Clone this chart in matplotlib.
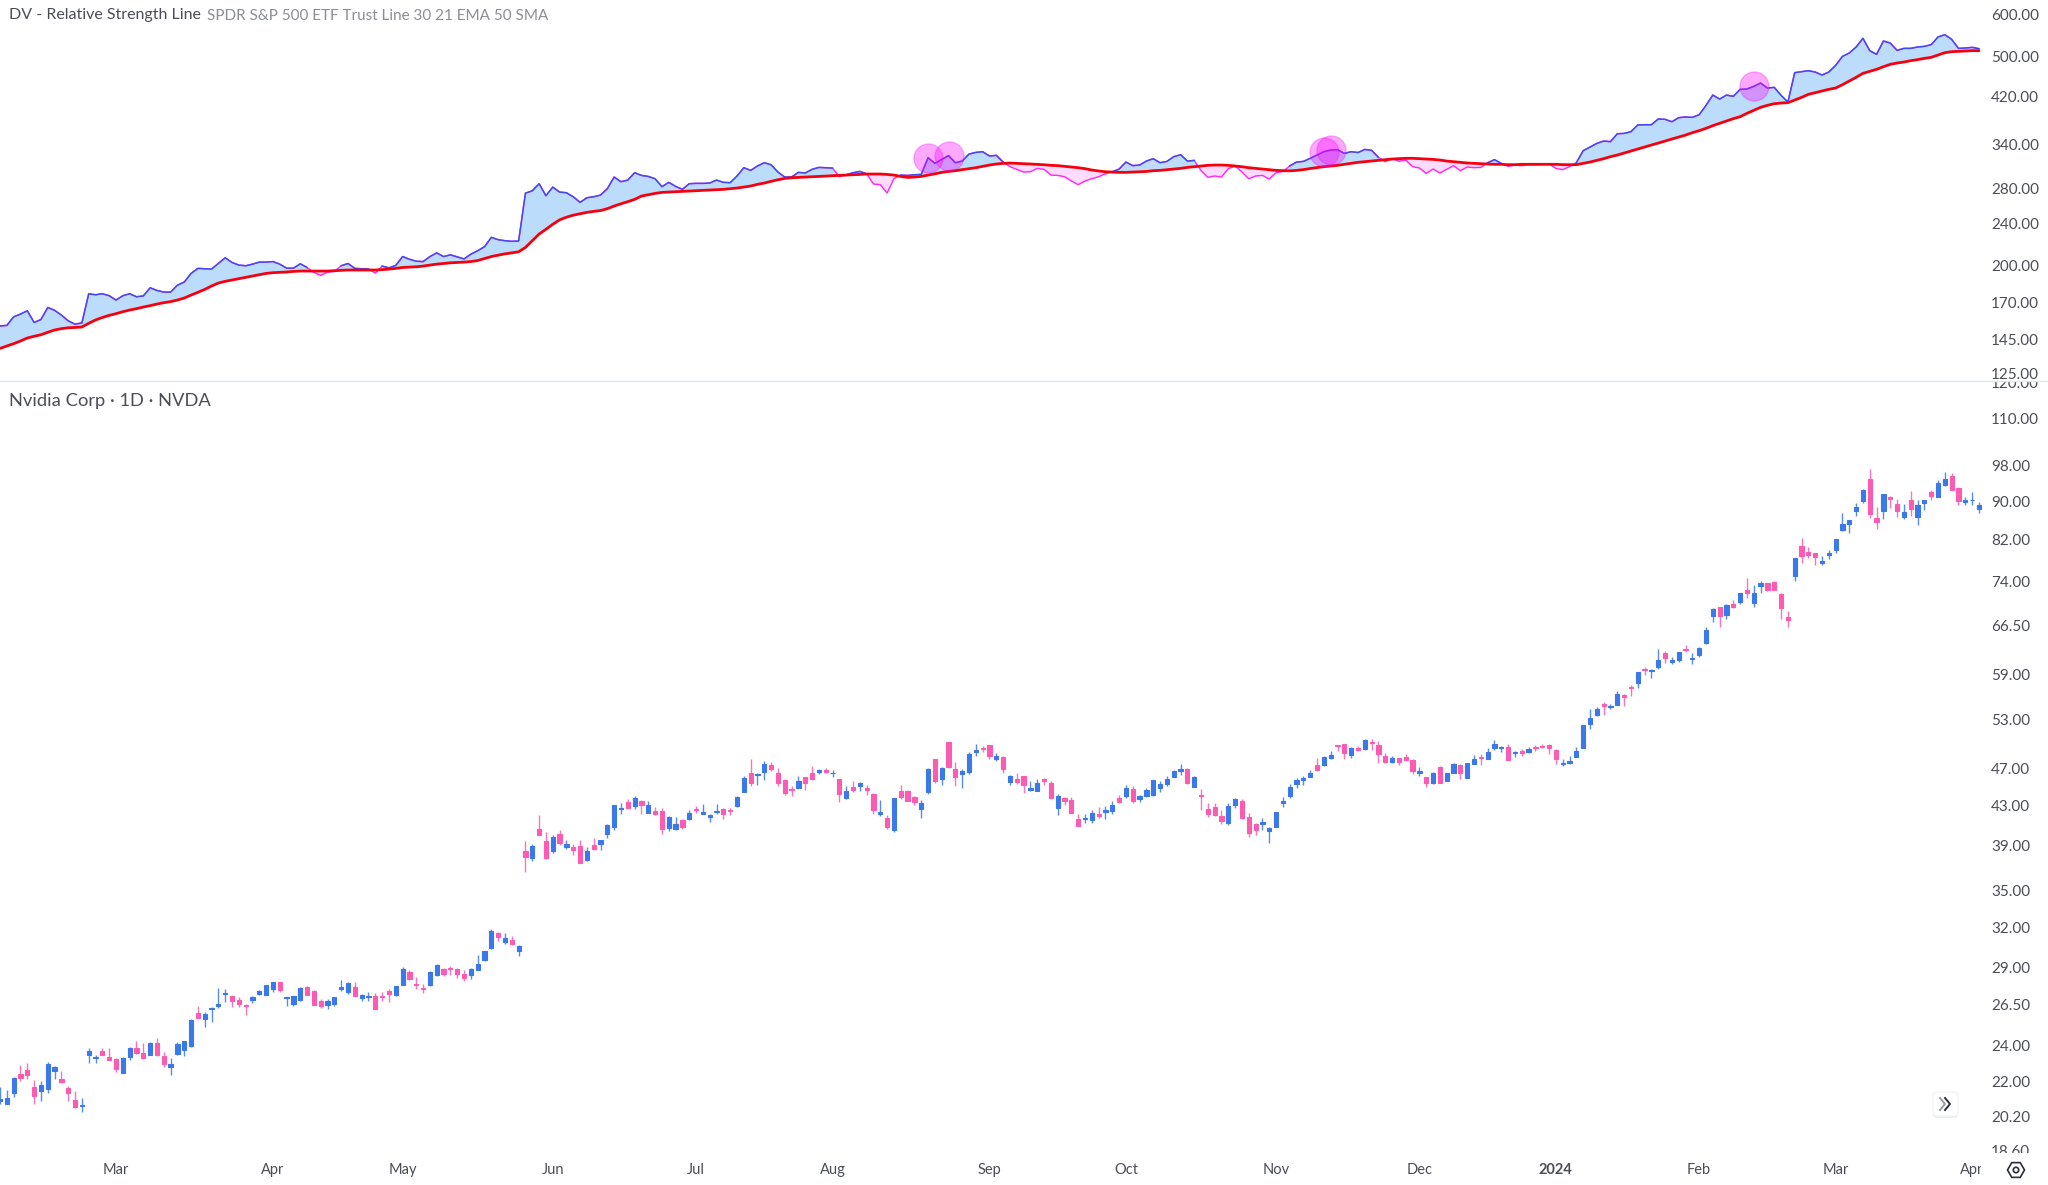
import numpy as np
import matplotlib
matplotlib.use("Agg")
import matplotlib.pyplot as plt
from matplotlib.patches import FancyBboxPatch, RegularPolygon, Circle
from matplotlib.transforms import offset_copy

# NVDA daily candles, Feb 2023 - Apr 2024
opens = [21.02,20.83,21.39,22.42,22.62,21.71,21.53,21.62,22.57,22.15,
    21.67,21.05,20.73,23.46,23.31,23.69,23.38,23.24,22.50,23.36,
    23.90,23.61,23.49,24.19,23.42,22.79,23.53,23.78,24.02,26.02,
    25.65,26.23,26.46,27.20,27.09,26.83,26.53,26.85,27.22,27.16,
    27.53,28.01,26.94,26.59,26.83,27.73,27.40,26.74,26.50,26.57,
    27.55,27.38,27.69,26.94,27.03,27.09,27.07,27.40,27.18,27.85,
    28.70,27.89,27.64,27.80,28.52,28.93,29.00,28.93,28.56,28.54,
    28.86,29.59,30.42,31.58,30.87,31.02,30.22,
    38.53,37.88,40.63,39.50,38.50,40.14,38.90,38.87,38.96,37.72,
    39.06,39.18,40.17,40.83,42.65,43.42,42.97,43.49,42.24,42.48,
    42.48,40.76,40.63,41.56,41.66,42.69,42.14,41.87,42.31,42.65,
    42.59,42.97,44.49,46.55,46.32,46.66,47.43,46.51,45.80,44.81,
    44.89,46.07,46.51,46.70,46.85,46.51,45.84,43.77,45.03,45.14,
    44.85,44.27,42.14,41.73,40.50,44.56,44.53,43.95,42.69,44.45,
    48.12,45.84,50.18,46.97,46.47,46.70,49.02,49.42,49.78,48.20,
    48.43,45.55,45.88,46.18,44.70,44.60,45.92,
    45.40,42.76,43.85,43.60,41.60,41.63,41.53,42.11,42.31,42.45,
    43.85,43.99,44.81,43.70,43.99,44.17,44.85,45.29,46.14,46.74,
    46.97,45.03,44.10,42.62,42.86,41.94,41.23,43.07,43.46,41.87,
    41.13,41.17,40.47,40.86,43.32,43.99,45.29,45.77,46.07,47.46,
    47.50,48.28,49.78,49.94,48.67,49.50,49.30,50.23,49.82,48.47,
    47.77,48.24,48.35,48.04,46.59,46.07,45.47,47.19,45.66,46.62,
    47.50,46.03,47.62,48.43,48.16,49.42,49.42,49.62,48.83,49.14,
    48.99,49.58,49.74,49.82,49.22,47.54,47.73,48.43,
    49.5,52.4,53.55,55.0,54.65,54.96,56.33,57.4,57.97,60.0,
    59.6,60.27,62.34,61.0,61.2,62.97,61.4,62.05,63.85,68.2,
    69.6,68.3,70.1,70.45,72.65,70.4,73.25,73.78,74.0,71.9,
    68.0,75.1,80.7,79.7,79.35,77.5,79.1,80.05,84.0,85.25,
    87.95,90.1,95.1,86.4,88.0,91.0,89.45,86.75,90.32,86.7,
    89.75,92.2,91.0,93.75,95.75,93.05,89.95,90.25,88.35]
highs = [21.74,21.56,22.28,22.92,23.05,22.10,22.06,23.07,22.88,22.59,
    21.78,21.53,21.13,23.90,23.51,23.90,23.86,23.29,23.38,23.94,
    24.27,24.15,24.23,24.47,23.63,23.33,24.21,24.31,25.60,26.42,
    26.04,26.40,27.64,27.53,27.18,27.00,26.55,27.09,27.49,27.85,
    28.03,28.03,27.03,27.11,27.67,27.78,27.49,26.92,26.92,27.05,
    28.15,28.03,28.03,27.22,27.38,27.27,27.33,27.53,27.78,29.04,
    28.84,28.38,27.89,28.77,29.26,29.00,29.14,28.98,28.86,29.00,
    29.90,30.25,31.85,31.62,31.55,31.32,30.65,
    39.50,39.15,42.08,40.34,40.08,40.50,39.59,39.15,39.53,38.90,
    39.75,39.53,41.10,43.07,43.32,43.70,43.99,43.60,43.46,42.83,
    42.76,41.94,41.87,41.63,42.55,42.93,43.21,42.17,43.21,42.79,
    42.79,43.99,46.18,48.12,46.51,47.89,47.85,47.08,45.84,45.10,
    46.18,46.10,47.39,47.04,47.12,46.89,45.88,45.10,45.70,45.55,
    45.25,44.31,43.63,42.04,43.81,45.25,44.70,44.06,43.60,47.08,
    48.16,47.23,50.23,47.77,46.97,49.02,49.94,49.74,49.78,48.87,
    48.55,46.36,46.62,46.22,45.70,45.92,45.99,
    45.66,44.27,43.95,43.88,42.14,42.14,42.55,42.86,42.93,43.46,
    44.17,45.18,45.10,44.13,44.85,45.80,45.62,46.25,46.89,47.62,
    47.12,46.25,44.74,43.25,43.32,42.52,43.25,43.77,43.67,42.24,
    41.23,41.73,40.89,42.38,43.92,45.29,45.95,46.25,46.85,48.28,
    48.51,49.06,49.82,49.98,49.54,49.66,50.51,50.55,50.27,48.91,
    48.47,48.31,48.79,48.12,47.19,46.07,46.70,47.39,46.62,47.70,
    47.54,47.66,48.59,48.71,49.42,50.47,49.74,49.98,49.14,49.34,
    49.54,49.78,49.98,49.98,49.30,48.16,48.51,49.54,
    52.3,54.35,54.65,55.37,55.0,56.8,56.42,57.6,59.55,60.3,
    59.88,62.87,62.65,61.75,62.5,63.47,62.25,63.17,66.4,69.45,
    69.7,70.15,70.8,72.15,74.7,73.5,74.2,73.85,74.25,72.0,
    68.95,78.45,82.35,80.65,79.45,78.9,79.95,82.2,87.6,86.05,
    89.75,92.75,97.4,88.85,91.75,91.3,90.55,89.45,92.3,90.45,
    90.4,92.65,94.75,96.7,96.35,93.15,91.1,92.2,90.0]
lows = [20.85,20.83,21.22,22.05,22.17,20.85,21.00,21.39,22.14,21.96,
    21.02,20.65,20.46,23.05,23.01,23.46,23.20,22.55,22.50,23.20,
    23.55,23.27,23.47,23.44,22.79,22.37,23.51,23.42,23.96,25.69,
    25.15,25.46,26.29,26.72,26.38,26.40,25.90,26.66,27.18,27.16,
    27.38,27.33,26.44,26.46,26.74,27.16,26.50,26.33,26.25,26.46,
    27.44,27.25,27.07,26.77,26.74,26.25,26.77,26.68,27.11,27.80,
    28.15,27.53,27.27,27.78,28.42,28.47,28.52,28.31,28.10,28.21,
    28.84,29.50,30.40,30.97,30.77,30.70,29.83,
    36.64,37.63,40.01,37.82,38.37,39.09,38.74,38.18,37.45,37.57,
    38.62,38.65,39.75,40.56,42.14,42.69,42.69,42.11,42.21,42.04,
    40.14,40.47,40.53,40.66,41.53,42.21,42.11,41.36,42.14,41.63,
    42.04,42.83,44.45,45.10,45.25,45.77,46.78,45.10,44.17,44.02,
    44.85,44.67,45.77,46.40,46.51,46.07,43.39,43.74,44.45,44.60,
    44.13,42.14,41.90,40.66,40.37,43.74,43.46,43.07,41.70,44.24,
    45.40,45.25,47.16,45.07,44.89,46.40,48.47,48.99,48.16,47.93,
    46.55,45.22,45.33,44.35,44.53,44.53,45.18,
    43.81,42.04,43.04,42.21,40.93,41.26,41.23,41.73,41.63,42.14,
    43.32,43.85,43.32,43.35,43.95,44.06,44.42,45.14,46.10,46.36,
    45.36,45.00,42.52,41.87,41.97,41.10,41.00,42.79,41.63,39.91,
    40.04,40.56,39.28,40.86,42.90,43.77,44.89,45.22,46.07,46.78,
    47.31,48.12,49.06,48.16,48.31,49.14,49.22,49.22,47.73,47.73,
    47.69,47.46,47.89,46.43,46.22,45.00,45.33,45.44,45.62,46.59,
    45.88,45.99,47.58,47.46,48.12,49.18,48.95,48.04,48.43,48.51,
    48.91,49.14,49.42,48.79,47.62,47.39,47.54,48.35,
    49.46,51.8,53.5,53.6,54.43,54.9,54.78,56.1,57.2,59.08,
    58.6,59.97,60.85,60.6,61.0,62.4,60.7,61.7,63.75,67.2,
    66.3,67.6,69.55,70.2,71.25,69.7,72.0,72.4,72.6,67.75,
    66.3,74.25,77.5,78.55,77.15,77.15,78.3,79.4,83.8,83.35,
    86.95,89.7,86.5,84.2,86.25,88.55,86.65,86.3,87.0,85.05,
    88.1,90.32,90.95,93.5,92.45,89.15,89.15,89.15,87.55]
closes = [21.10,21.13,22.21,22.23,22.37,21.27,21.83,22.97,22.80,21.99,
    21.39,20.68,20.79,23.69,23.38,23.49,23.22,22.70,23.33,23.90,
    23.57,23.29,24.19,23.46,22.97,22.97,24.11,24.27,25.56,25.71,
    25.92,26.29,26.55,27.27,26.79,26.55,26.48,27.00,27.42,27.80,
    28.01,27.49,27.00,27.07,27.62,27.18,26.50,26.46,26.77,27.00,
    27.69,27.96,27.11,27.16,27.07,26.25,27.00,27.22,27.76,28.93,
    28.21,27.85,27.55,28.70,29.19,28.56,28.93,28.61,28.33,28.95,
    29.26,30.22,31.72,31.24,31.17,30.72,30.57,
    37.97,38.96,40.08,37.85,39.82,39.31,39.21,38.65,37.45,38.56,
    38.74,39.53,41.00,43.04,42.76,42.72,43.77,43.07,43.04,42.17,
    40.60,41.87,41.13,40.83,42.24,42.52,42.31,42.07,42.48,42.17,
    42.48,43.92,45.99,45.47,46.47,47.54,47.00,45.47,44.31,44.70,
    45.66,45.40,45.88,46.85,46.70,46.62,44.27,44.53,44.67,45.40,
    44.70,42.55,42.38,40.83,43.77,43.92,43.49,43.35,43.28,46.97,
    45.70,47.12,47.19,46.07,46.78,48.75,49.22,49.30,48.55,48.55,
    47.04,46.22,45.55,45.22,44.89,45.47,45.62,
    43.85,43.99,43.46,42.24,40.96,41.77,42.28,41.97,42.52,43.07,
    43.42,44.85,43.49,44.06,44.70,45.77,45.33,45.84,46.81,46.97,
    45.44,46.14,43.99,42.17,42.04,41.40,42.97,43.67,41.70,40.27,
    40.50,41.30,40.79,42.35,43.49,44.99,45.77,45.95,46.55,46.89,
    48.39,48.63,49.66,48.91,49.50,49.26,50.39,50.10,48.71,47.77,
    48.24,47.85,48.08,46.81,46.74,45.47,46.55,45.47,46.59,47.54,
    46.62,47.66,48.12,48.31,48.95,50.02,49.62,48.08,48.95,48.83,
    49.30,49.46,49.62,49.50,48.16,47.70,47.96,49.06,
    52.27,53.17,54.35,54.83,54.83,56.38,56.0,57.27,59.5,59.75,
    59.84,61.3,61.53,61.2,62.4,62.8,61.6,63.0,65.9,69.3,
    68.2,70.05,69.6,72.05,72.15,72.05,73.78,72.6,72.65,69.45,
    67.45,78.4,78.85,79.05,78.7,77.85,79.35,82.15,85.2,86.0,
    88.75,92.6,87.4,85.7,91.7,90.65,88.0,87.75,88.3,89.3,
    90.25,91.3,94.2,95.0,92.55,90.2,90.32,90.45,89.3]

# relative strength line and its 50 SMA
rs_line = [153.9,154.3,160.2,162.1,164.5,156.3,158.3,166.9,164.8,161.4,
    157.4,155.1,156.0,177.2,176.4,177.2,175.7,172.4,175.7,177.2,
    174.9,175.5,181.9,179.8,178.5,178.5,184.0,186.5,193.7,198.0,
    197.7,197.4,202.3,207.4,203.2,200.9,200.3,201.7,203.5,203.5,
    204.0,201.7,198.2,198.2,202.0,198.8,194.5,192.0,194.8,195.4,
    200.3,202.3,198.0,197.7,197.4,194.0,200.0,198.5,200.6,208.5,
    206.1,204.3,204.0,208.5,211.9,208.5,210.1,208.2,206.4,210.7,
    213.9,217.7,226.8,224.5,223.5,222.9,223.2,275.2,278.0,286.8,
    272.1,282.6,276.5,275.7,270.9,264.3,269.7,270.9,272.9,280.6,
    295.3,289.3,291.4,300.9,297.4,296.1,293.1,283.1,288.5,283.5,
    279.8,286.8,287.2,287.2,287.6,291.4,288.5,288.1,296.6,307.6,
    304.0,309.9,314.4,311.6,301.8,295.3,295.3,301.4,300.6,305.4,
    308.0,307.6,307.1,295.7,298.3,300.9,302.6,299.5,286.4,285.6,
    275.4,293.1,297.8,297.4,298.3,298.7,321.3,313.5,319.0,324.2,
    314.4,316.7,326.5,328.9,329.9,323.7,324.7,315.3,309.0,305.4,
    301.8,302.2,306.7,305.4,297.8,297.4,295.7,290.2,285.6,290.2,
    293.1,295.7,299.5,302.2,305.8,315.3,310.4,311.2,316.7,320.0,
    314.4,316.2,322.8,325.6,316.7,317.6,303.9,294.9,296.6,295.3,
    306.3,309.9,301.8,293.1,296.6,297.4,292.7,300.9,302.6,309.9,
    315.3,316.2,320.5,325.2,329.9,332.3,332.8,327.5,329.9,328.7,
    333.2,331.8,321.8,315.8,320.0,316.3,318.1,309.0,307.2,300.0,
    305.8,300.5,305.4,310.3,303.6,308.5,307.6,308.0,314.4,318.6,
    313.5,309.4,311.2,310.3,311.7,311.7,312.2,313.0,306.7,305.0,
    309.0,314.4,331.4,336.7,342.1,345.7,344.7,356.9,357.4,360.1,
    370.8,371.3,371.3,380.6,380.1,376.1,382.9,384.0,383.4,387.9,
    404.0,422.7,415.4,422.7,420.3,433.4,434.0,439.1,445.5,435.9,
    437.2,422.2,410.0,466.2,468.2,470.3,467.5,461.4,467.5,481.4,
    500.7,508.1,521.6,541.8,513.3,505.1,535.5,530.7,514.0,518.5,
    518.5,521.6,523.1,527.0,545.0,550.6,539.4,518.5,519.3,520.8,
    517.8]
sma_50 = [139.5,141.0,142.4,144.1,146.0,147.1,148.1,149.7,151.2,152.1,
    152.7,152.9,153.2,155.7,158.0,159.7,161.2,162.4,163.8,165.0,
    166.0,167.2,168.2,169.4,170.4,171.2,172.4,173.9,176.2,178.3,
    180.6,183.3,185.7,187.1,188.2,189.3,190.4,191.5,192.6,193.7,
    194.3,194.6,194.9,195.4,195.7,195.7,195.7,195.7,195.7,196.0,
    196.3,196.6,196.6,196.6,196.6,196.6,196.9,197.4,198.0,198.8,
    199.1,199.4,200.0,200.9,201.7,202.3,202.9,203.2,203.5,204.0,
    204.9,206.7,208.5,209.8,211.0,211.9,212.9,217.0,223.5,230.1,
    234.9,240.1,244.8,247.7,249.9,251.5,253.0,254.1,255.0,257.1,
    260.1,262.7,265.1,267.8,271.7,273.3,274.9,276.1,276.5,276.9,
    277.3,277.7,278.1,278.5,278.9,279.4,279.8,280.6,281.4,282.7,
    283.9,286.0,287.6,289.8,291.8,293.5,294.4,294.8,295.3,295.7,
    296.1,296.6,297.0,297.4,297.8,298.3,298.7,299.2,299.2,299.2,
    298.7,297.8,296.1,294.8,295.3,296.1,297.8,299.5,301.4,302.6,
    303.6,304.9,306.3,307.6,309.4,311.2,312.6,313.5,313.9,313.5,
    313.0,312.6,312.1,311.6,310.8,310.4,309.4,308.5,307.6,306.3,
    304.5,303.2,302.2,301.8,301.4,301.4,301.8,302.2,302.6,303.6,
    304.0,304.9,305.8,306.7,308.0,308.9,309.9,310.8,311.2,311.2,
    310.8,309.9,308.9,307.6,306.7,305.8,304.9,304.0,303.6,303.4,
    304.0,305.0,306.5,307.8,309.0,309.9,310.8,312.2,313.5,314.9,
    315.8,316.7,317.6,318.6,319.5,320.0,320.5,320.5,320.0,319.5,
    319.0,318.1,316.7,315.8,314.9,314.0,313.5,313.0,312.6,312.2,
    312.2,311.7,311.7,312.2,312.2,312.2,312.2,312.2,312.2,311.7,
    311.7,311.7,313.5,315.3,317.7,320.0,322.8,325.1,328.0,330.8,
    333.8,336.7,339.7,342.6,345.7,348.7,351.7,354.8,358.5,361.7,
    365.4,369.7,373.5,377.3,381.2,384.5,390.2,395.3,400.6,404.1,
    407.0,408.2,408.8,413.6,418.4,424.0,427.1,430.2,433.4,435.9,
    442.3,449.4,456.8,464.8,468.9,473.0,478.5,483.5,486.3,488.4,
    491.3,493.5,496.3,498.5,503.6,508.8,511.0,511.8,512.5,513.3,
    513.3]
# bars with a highlight circle on the rs line
signal_bars = [136, 139, 194, 195, 257]

month_bars = [17, 40, 59, 81, 102, 122, 145, 165, 187, 208, 228, 249, 269, 289]
month_labels = ["Mar", "Apr", "May", "Jun", "Jul", "Aug", "Sep", "Oct", "Nov", "Dec", "2024", "Feb", "Mar", "Apr"]
rs_ticks = [600, 500, 420, 340, 280, 240, 200, 170, 145, 125]
price_ticks = [120, 110, 98, 90, 82, 74, 66.5, 59, 53, 47, 43, 39, 35, 32, 29, 26.5, 24, 22, 20.2, 18.6]

BLUE = "#3b78e8"
PINK = "#fb5bb0"
TEXT = "#4b4d57"
GREY = "#8c8e96"
BAR_PX = 6.824

plt.rcParams["font.family"] = ["Lato", "DejaVu Sans"]

W, H = 2048, 1185
fig = plt.figure(figsize=(W / 100, H / 100), dpi=100, facecolor="white")

def pane(top, bottom, right=W):
    return fig.add_axes([0, 1 - bottom / H, right / W, (bottom - top) / H])

ax_rs = pane(0, 380)
ax_px = pane(381, 1153)
ax_time = pane(1153, 1185, right=1981)

x = np.arange(len(closes))
rs = np.array(rs_line)
sma = np.array(sma_50)

# top pane
ax_rs.fill_between(x, rs, sma, where=rs >= sma, interpolate=True, color="#bcdcfb", lw=0)
ax_rs.fill_between(x, rs, sma, where=rs <= sma, interpolate=True, color="#ffdcfd", lw=0)
ax_rs.plot(x, rs, color="#ff2bf0", lw=1.05)
ax_rs.plot(x, np.where(rs >= sma, rs, np.nan), color="#3b4cf5", lw=1.05)
ax_rs.plot(x, sma, color="#f5000f", lw=2.0, solid_capstyle="round")
ax_rs.plot(x[signal_bars], rs[signal_bars], "o", ms=21, mfc=(1, 0, 1, 0.34), mec=(0.9, 0, 0.9, 0.25), mew=1)
ax_rs.set_yscale("log")
ax_rs.set_ylim(121.5, 640.7)

# candles
o = np.array(opens)
c = np.array(closes)
colors = [BLUE if b >= a else PINK for a, b in zip(o, c)]
ax_px.vlines(x, lows, highs, colors=colors, lw=1.0, alpha=0.85)
ax_px.bar(x, np.abs(c - o), bottom=np.minimum(o, c), width=0.62, color=colors, edgecolor=colors, lw=0.8)
ax_px.set_yscale("log")
ax_px.set_ylim(18.51, 120.6)

for ax, ticks in [(ax_rs, rs_ticks), (ax_px, price_ticks)]:
    ax.set_xlim(0, W / BAR_PX)
    label_tr = offset_copy(ax.get_yaxis_transform(), fig=fig, y=-1, units="dots")
    for t in ticks:
        ax.text(1991 / W, t, f"{t:.2f}", transform=label_tr, ha="left", va="center",
                fontsize=11, color=TEXT, clip_on=True)
    ax.axis("off")

# time axis
ax_time.set_xlim(0, 1981 / BAR_PX)
ax_time.set_ylim(0, 1)
ax_time.axis("off")
for b, lab in zip(month_bars, month_labels):
    ax_time.text(b, 0.46, lab, ha="center", va="center", fontsize=10.5, color=TEXT, clip_on=True,
                 fontweight="bold" if lab == "2024" else "normal")

# titles, separator and the little chart controls, in pixels
ui = fig.add_axes([0, 0, 1, 1], facecolor="none")
ui.set_xlim(0, W)
ui.set_ylim(H, 0)
ui.axis("off")
ui.axhline(380.5, color="#e4e6ec", lw=1)
ui.text(9, 15.5, "DV - Relative Strength Line", fontsize=11.5, color=TEXT, va="center")
ui.text(207, 15.5, "SPDR S&P 500 ETF Trust Line 30 21 EMA 50 SMA", fontsize=11, color=GREY, va="center")
ui.text(9, 401, "Nvidia Corp · 1D · NVDA", fontsize=13.2, color=TEXT, va="center")

for off, col in [(2.0, "#eceef2"), (0, "white")]:
    ui.add_patch(FancyBboxPatch((1933, 1092 + off), 25, 24, boxstyle="round,pad=0,rounding_size=4",
                                fc=col, ec="#f1f2f5" if off == 0 else "none", lw=0.8))
for dx, col in [(0, "#9a9ca5"), (5, "#2c2f3a")]:
    ui.plot([1940 + dx, 1945 + dx, 1940 + dx], [1098, 1104, 1110], color=col, lw=1.4)
ui.add_patch(RegularPolygon((2016, 1170), 6, radius=8.5, orientation=np.pi / 6, fc="none", ec="#2c2f3a", lw=1.2))
ui.add_patch(Circle((2016, 1170), 2.7, fc="none", ec="#2c2f3a", lw=1.2))

fig.savefig("out.png", dpi=100, facecolor="white")
